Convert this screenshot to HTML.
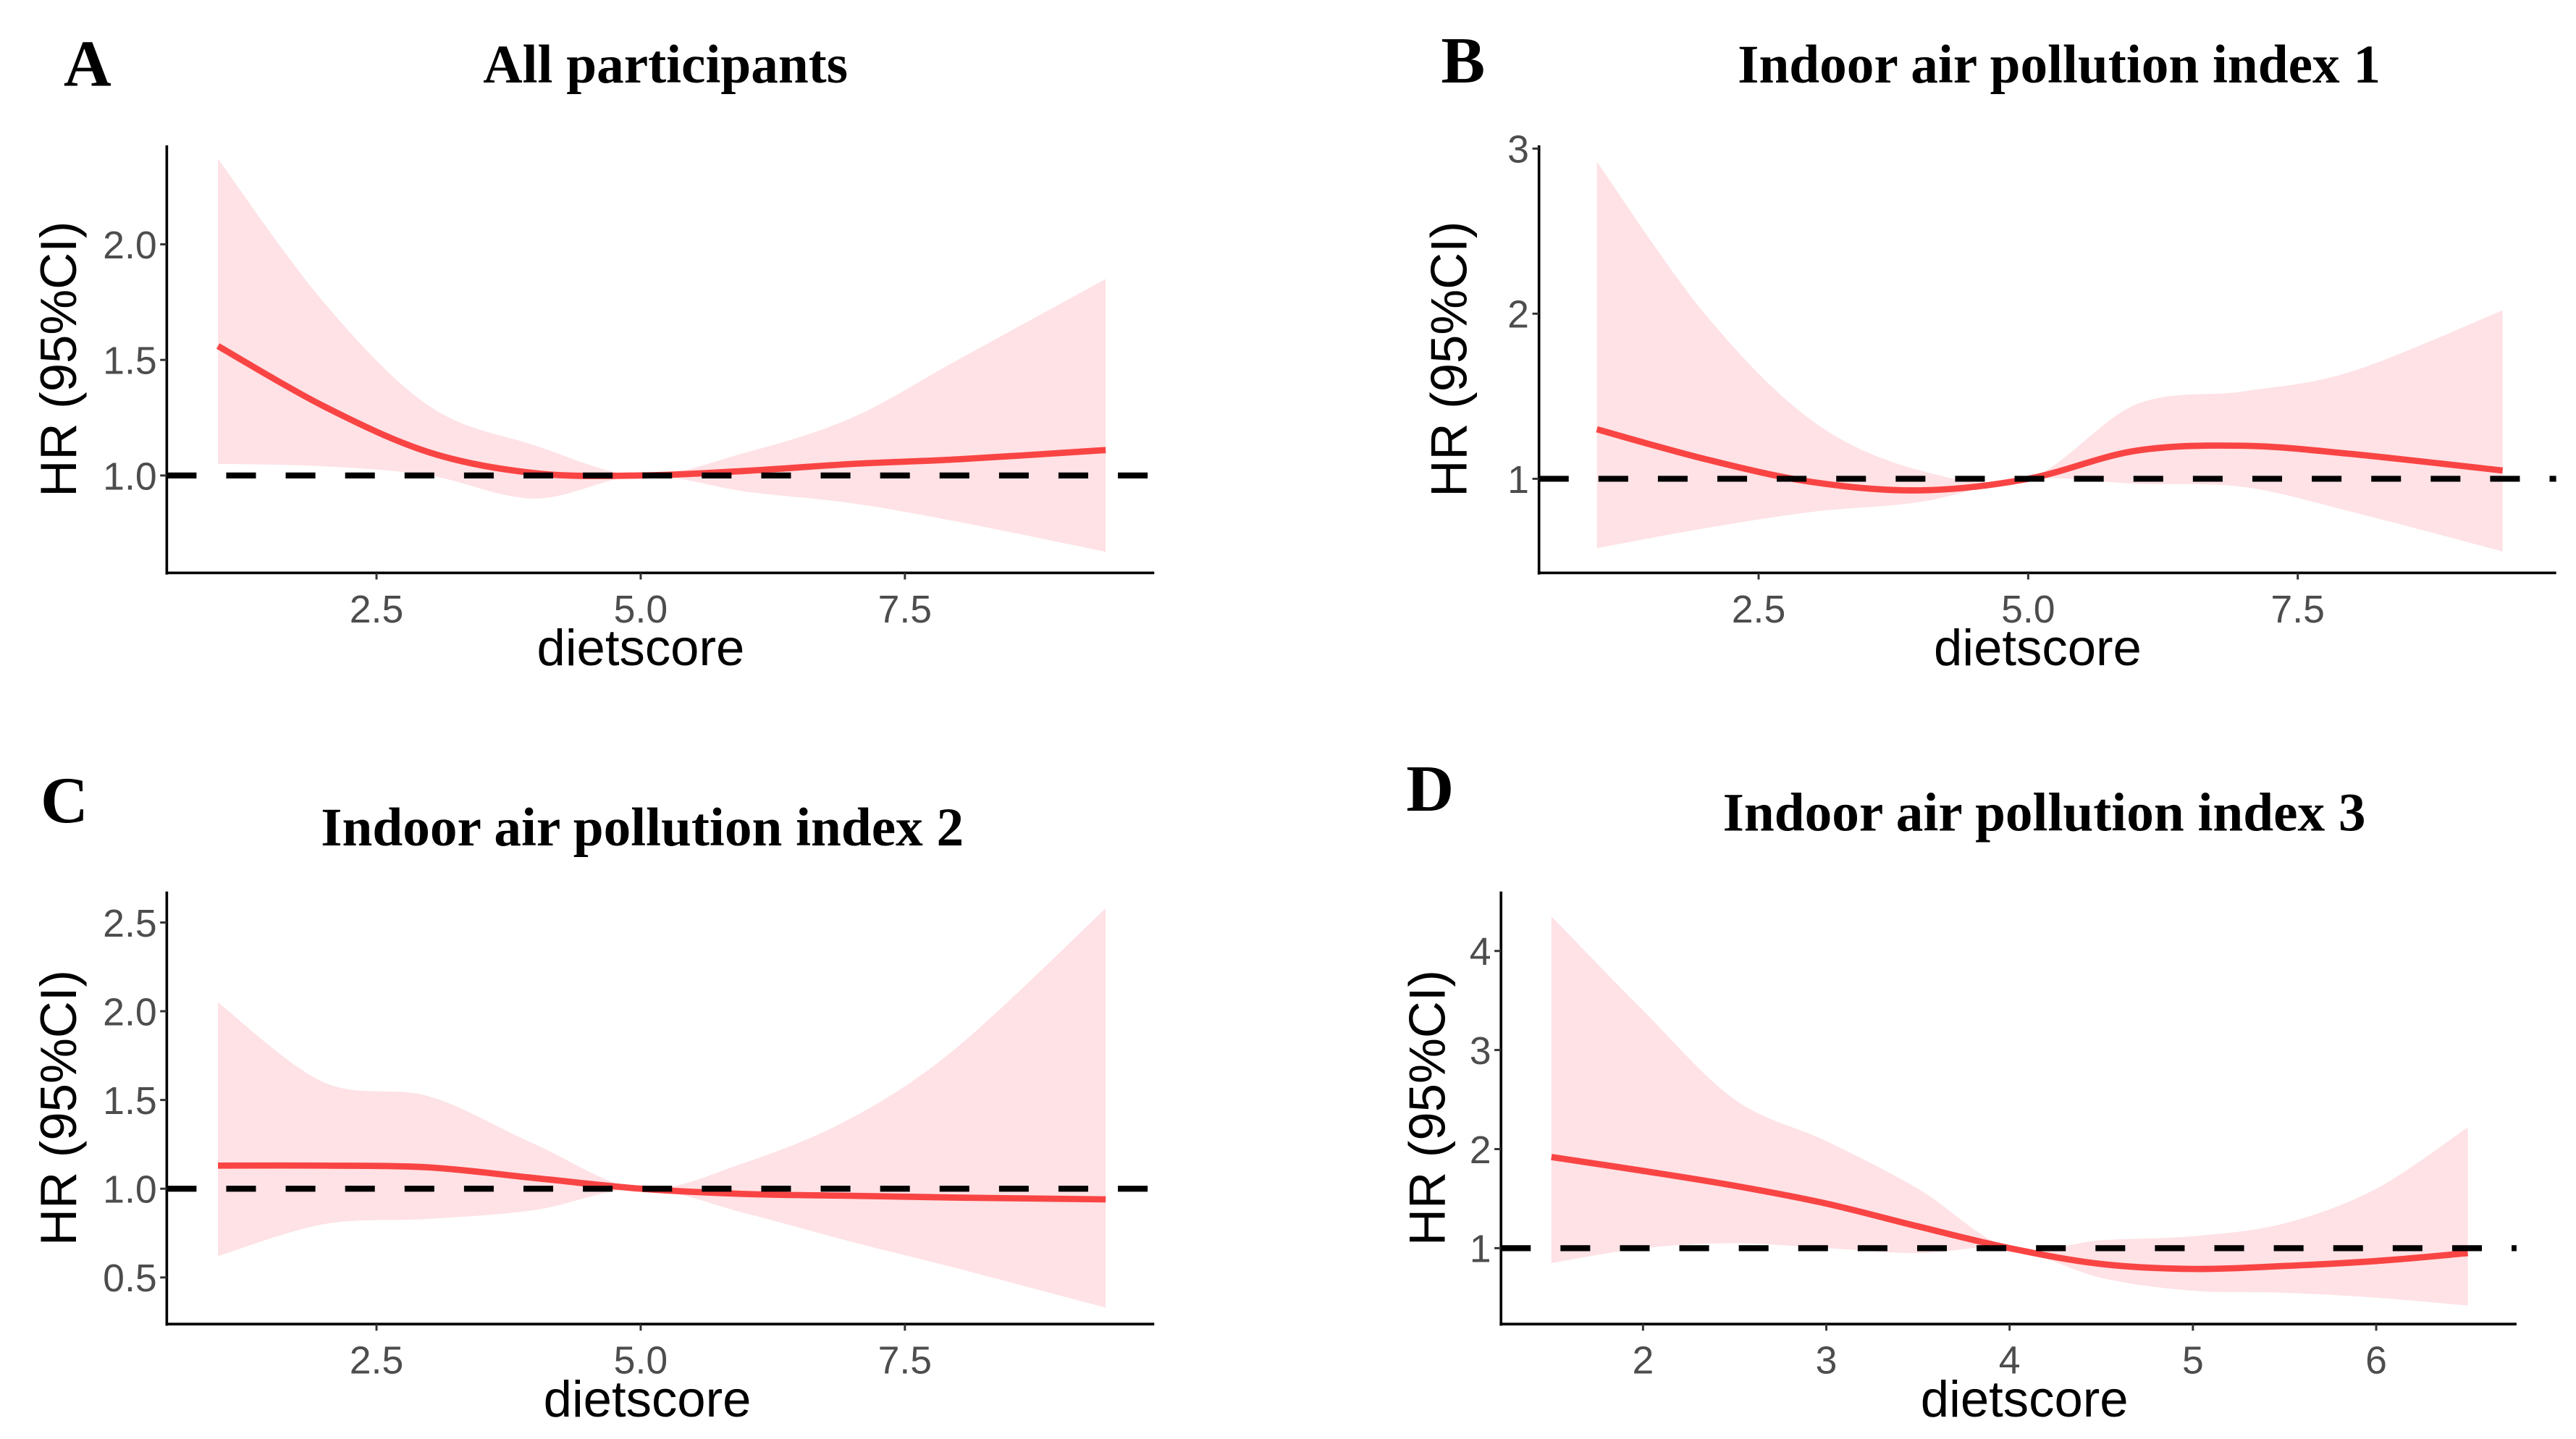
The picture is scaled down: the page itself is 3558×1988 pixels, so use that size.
<!DOCTYPE html>
<html><head><meta charset="utf-8"><style>
html,body{margin:0;padding:0;background:#fff}
svg{display:block}
</style></head><body>
<svg id="fig" width="3558" height="1988" viewBox="0 0 1560 871.6" preserveAspectRatio="none" xmlns="http://www.w3.org/2000/svg"></svg>
<script>
// Panel A
const xA = [1, 2, 3, 4, 5, 6, 7, 8, 9.4];
const hrA = [1.56, 1.30, 1.10, 1.01, 1.0, 1.02, 1.05, 1.07, 1.11];
const loA = [1.05, 1.04, 1.00, 0.90, 1.0, 0.93, 0.88, 0.80, 0.67];
const hiA = [2.37, 1.75, 1.30, 1.13, 1.0, 1.10, 1.25, 1.50, 1.85];
const yTicksA = [1.0, 1.5, 2.0];
const yLabelsA = ["1.0", "1.5", "2.0"];
// Panel B
const xB = [1, 2, 3, 4, 5, 6, 7, 8, 9.4];
const hrB = [1.30, 1.12, 0.98, 0.93, 1.0, 1.17, 1.20, 1.15, 1.05];
const loB = [0.58, 0.70, 0.80, 0.86, 1.0, 0.97, 0.95, 0.80, 0.56];
const hiB = [2.92, 2.0, 1.35, 1.05, 1.0, 1.45, 1.53, 1.65, 2.02];
const yTicksB = [1, 2, 3];
const yLabelsB = ["1", "2", "3"];
// Panel C
const xC = [1, 2, 3, 4, 5, 6, 7, 8, 9.4];
const hrC = [1.13, 1.13, 1.12, 1.06, 1.0, 0.97, 0.96, 0.95, 0.94];
const loC = [0.62, 0.80, 0.83, 0.88, 1.0, 0.86, 0.70, 0.55, 0.33];
const hiC = [2.05, 1.60, 1.52, 1.25, 1.0, 1.15, 1.40, 1.80, 2.58];
const yTicksC = [0.5, 1.0, 1.5, 2.0, 2.5];
const yLabelsC = ["0.5", "1.0", "1.5", "2.0", "2.5"];
// Panel D
const xD = [1.5, 2, 2.5, 3, 3.5, 4, 4.5, 5, 5.5, 6, 6.5];
const hrD = [1.92, 1.78, 1.63, 1.45, 1.22, 1.0, 0.84, 0.79, 0.82, 0.87, 0.95];
const loD = [0.85, 1.0, 1.05, 1.0, 0.95, 1.0, 0.70, 0.57, 0.55, 0.50, 0.42];
const hiD = [4.35, 3.4, 2.5, 2.08, 1.6, 1.0, 1.08, 1.12, 1.25, 1.6, 2.22];
const yTicksD = [1, 2, 3, 4];
const yLabelsD = ["1", "2", "3", "4"];
const xTicksAC = [2.5, 5.0, 7.5];
const xLabelsAC = ["2.5", "5.0", "7.5"];
const xTicksD = [2, 3, 4, 5, 6];
const xLabelsD = ["2", "3", "4", "5", "6"];

const NS = "http://www.w3.org/2000/svg";
const fig = document.getElementById('fig');
function mk(tag, attrs, parent, text) {
  const e = document.createElementNS(NS, tag);
  for (const k in attrs) e.setAttribute(k, attrs[k]);
  if (text !== undefined) e.textContent = text;
  (parent || fig).appendChild(e);
  return e;
}
function spline(pts) {
  let d = "M" + pts[0][0] + "," + pts[0][1];
  for (let i = 0; i < pts.length - 1; i++) {
    const p0 = pts[Math.max(0, i - 1)], p1 = pts[i], p2 = pts[i + 1], p3 = pts[Math.min(pts.length - 1, i + 2)];
    const c1x = p1[0] + (p2[0] - p0[0]) / 6, c1y = p1[1] + (p2[1] - p0[1]) / 6;
    const c2x = p2[0] - (p3[0] - p1[0]) / 6, c2y = p2[1] - (p3[1] - p1[1]) / 6;
    d += " C" + c1x + "," + c1y + " " + c2x + "," + c2y + " " + p2[0] + "," + p2[1];
  }
  return d;
}
function panel(cfg) {
  const g = mk('g', {});
  
  
  const sx = v => cfg.x0px + (v - cfg.x0) * cfg.xs;
  const sy = v => cfg.y1px - (v - 1) * cfg.ys;
  const up = cfg.xs_.map((x, i) => [sx(x), sy(cfg.hi[i])]);
  const dn = cfg.xs_.map((x, i) => [sx(x), sy(cfg.lo[i])]).reverse();
  let d = spline(up);
  d += " L" + dn[0][0] + "," + dn[0][1] + spline(dn).replace(/^M[^C]*/, " ") + " Z";
  const rib = mk('path', { d: d, fill: '#fee2e5', stroke: 'none' }, g);
  
  
  const ln = mk('path', { d: spline(cfg.xs_.map((x, i) => [sx(x), sy(cfg.hr[i])])), fill: 'none', stroke: '#f94444', 'stroke-width': 3.8 }, g);
  
  
  const rl = mk('line', { x1: cfg.ax, x2: cfg.axR, y1: sy(1), y2: sy(1), stroke: '#000', 'stroke-width': 3.6, 'stroke-dasharray': '18,18' }, g);
  
  
  const ya = mk('line', { x1: cfg.ax, x2: cfg.ax, y1: cfg.top, y2: cfg.bot + 1, stroke: '#000', 'stroke-width': 1.6 }, g);
  
  
  const xa = mk('line', { x1: cfg.ax - 0.8, x2: cfg.axR, y1: cfg.bot, y2: cfg.bot, stroke: '#000', 'stroke-width': 1.6 }, g);
  
  
  cfg.yt.forEach((v, i) => {
    mk('line', { x1: cfg.ax - 4, x2: cfg.ax, y1: sy(v), y2: sy(v), stroke: '#333', 'stroke-width': 1.3 }, g);
    const t = mk('text', { x: cfg.ax - 6, y: sy(v) + 8.5, 'text-anchor': 'end', 'font-family': 'Liberation Sans, sans-serif', 'font-size': 23.5, fill: '#4d4d4d' }, g, cfg.yl[i]);
    
    
  });
  cfg.xt.forEach((v, i) => {
    mk('line', { x1: sx(v), x2: sx(v), y1: cfg.bot, y2: cfg.bot + 4, stroke: '#333', 'stroke-width': 1.3 }, g);
    const t = mk('text', { x: sx(v), y: cfg.bot + 30, 'text-anchor': 'middle', 'font-family': 'Liberation Sans, sans-serif', 'font-size': 23.5, fill: '#4d4d4d' }, g, cfg.xl[i]);
    
    
  });
  const xt = mk('text', { x: cfg.xlabX, y: cfg.bot + 56, 'text-anchor': 'middle', 'font-family': 'Liberation Sans, sans-serif', 'font-size': 31, fill: '#000' }, g, 'dietscore');
  
  
  const cy = (cfg.top + cfg.bot) / 2;
  const yt = mk('text', { x: 0, y: 0, transform: 'translate(' + cfg.ylabX + ',' + cy + ') rotate(-90)', 'text-anchor': 'middle', 'font-family': 'Liberation Sans, sans-serif', 'font-size': 31, fill: '#000' }, g, 'HR (95%CI)');
  
  
  const tt = mk('text', { x: cfg.titleX, y: cfg.titleY, 'text-anchor': 'middle', 'font-family': 'Liberation Serif, serif', 'font-weight': 'bold', 'font-size': 33, fill: '#000' }, g, cfg.title);
  
  
  const lt = mk('text', { x: cfg.letX, y: cfg.letY, 'text-anchor': 'middle', 'font-family': 'Liberation Serif, serif', 'font-weight': 'bold', 'font-size': 40, fill: '#000' }, g, cfg.id);
  
  
}
panel({ id: 'A', xs_: xA, hr: hrA, lo: loA, hi: hiA, x0: 2.5, x0px: 228, xs: 64, y1px: 288, ys: 140,
  ax: 101, axR: 699, top: 88, bot: 347, yt: yTicksA, yl: yLabelsA, xt: xTicksAC, xl: xLabelsAC,
  xlabX: 388, ylabX: 46, title: 'All participants', titleX: 403, titleY: 50, letX: 53, letY: 52 });
panel({ id: 'B', xs_: xB, hr: hrB, lo: loB, hi: hiB, x0: 2.5, x0px: 1065, xs: 65.3, y1px: 290, ys: 100,
  ax: 932, axR: 1548, top: 88, bot: 347, yt: yTicksB, yl: yLabelsB, xt: xTicksAC, xl: xLabelsAC,
  xlabX: 1234, ylabX: 888, title: 'Indoor air pollution index 1', titleX: 1247, titleY: 50, letX: 886, letY: 50 });
panel({ id: 'C', xs_: xC, hr: hrC, lo: loC, hi: hiC, x0: 2.5, x0px: 228, xs: 64, y1px: 720, ys: 107.5,
  ax: 101, axR: 699, top: 540, bot: 802, yt: yTicksC, yl: yLabelsC, xt: xTicksAC, xl: xLabelsAC,
  xlabX: 392, ylabX: 46, title: 'Indoor air pollution index 2', titleX: 389, titleY: 512, letX: 39, letY: 498 });
panel({ id: 'D', xs_: xD, hr: hrD, lo: loD, hi: hiD, x0: 2, x0px: 995, xs: 111, y1px: 756, ys: 60,
  ax: 909, axR: 1524, top: 540, bot: 802, yt: yTicksD, yl: yLabelsD, xt: xTicksD, xl: xLabelsD,
  xlabX: 1226, ylabX: 875, title: 'Indoor air pollution index 3', titleX: 1238, titleY: 503, letX: 866, letY: 491 });
</script>
</body></html>
